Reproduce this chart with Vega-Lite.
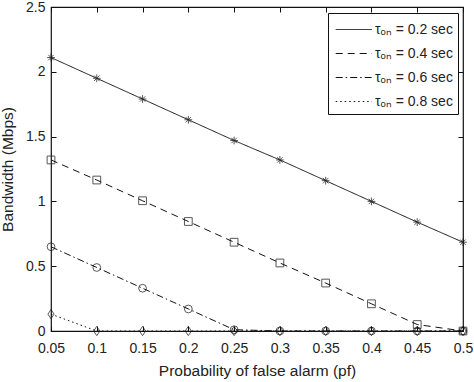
{
  "$schema": "https://vega.github.io/schema/vega-lite/v6.json",
  "width": 412,
  "height": 324,
  "autosize": {"type": "none"},
  "padding": {"left": 51, "top": 7, "right": 11, "bottom": 51},
  "background": "white",
  "config": {
    "view": {"stroke": "#111", "strokeWidth": 1.2},
    "font": "Liberation Sans",
    "legend": {"rowPadding": 5, "padding": 5},
    "axis": {
      "domain": false,
      "grid": false,
      "tickColor": "#111",
      "tickSize": -5,
      "labelPadding": 10,
      "labelFlush": false,
      "labelFont": "Liberation Sans",
      "labelFontSize": 14,
      "labelColor": "#222",
      "titleFont": "Liberation Sans",
      "titleFontSize": 15.5,
      "titleFontWeight": "normal",
      "titleColor": "#222"
    }
  },
  "data": {
    "values": [
      {"pf": 0.05, "tau": "0.2", "bw": 2.11},
      {"pf": 0.10, "tau": "0.2", "bw": 1.95},
      {"pf": 0.15, "tau": "0.2", "bw": 1.79},
      {"pf": 0.20, "tau": "0.2", "bw": 1.63},
      {"pf": 0.25, "tau": "0.2", "bw": 1.47},
      {"pf": 0.30, "tau": "0.2", "bw": 1.32},
      {"pf": 0.35, "tau": "0.2", "bw": 1.16},
      {"pf": 0.40, "tau": "0.2", "bw": 1.00},
      {"pf": 0.45, "tau": "0.2", "bw": 0.84},
      {"pf": 0.50, "tau": "0.2", "bw": 0.685},
      {"pf": 0.05, "tau": "0.4", "bw": 1.32},
      {"pf": 0.10, "tau": "0.4", "bw": 1.165},
      {"pf": 0.15, "tau": "0.4", "bw": 1.005},
      {"pf": 0.20, "tau": "0.4", "bw": 0.845},
      {"pf": 0.25, "tau": "0.4", "bw": 0.685},
      {"pf": 0.30, "tau": "0.4", "bw": 0.525},
      {"pf": 0.35, "tau": "0.4", "bw": 0.37},
      {"pf": 0.40, "tau": "0.4", "bw": 0.21},
      {"pf": 0.45, "tau": "0.4", "bw": 0.05},
      {"pf": 0.50, "tau": "0.4", "bw": 0.0},
      {"pf": 0.05, "tau": "0.6", "bw": 0.65},
      {"pf": 0.10, "tau": "0.6", "bw": 0.49},
      {"pf": 0.15, "tau": "0.6", "bw": 0.33},
      {"pf": 0.20, "tau": "0.6", "bw": 0.17},
      {"pf": 0.25, "tau": "0.6", "bw": 0.01},
      {"pf": 0.30, "tau": "0.6", "bw": 0.0},
      {"pf": 0.35, "tau": "0.6", "bw": 0.0},
      {"pf": 0.40, "tau": "0.6", "bw": 0.0},
      {"pf": 0.45, "tau": "0.6", "bw": 0.0},
      {"pf": 0.50, "tau": "0.6", "bw": 0.0},
      {"pf": 0.05, "tau": "0.8", "bw": 0.13},
      {"pf": 0.10, "tau": "0.8", "bw": 0.0},
      {"pf": 0.15, "tau": "0.8", "bw": 0.0},
      {"pf": 0.20, "tau": "0.8", "bw": 0.0},
      {"pf": 0.25, "tau": "0.8", "bw": 0.0},
      {"pf": 0.30, "tau": "0.8", "bw": 0.0},
      {"pf": 0.35, "tau": "0.8", "bw": 0.0},
      {"pf": 0.40, "tau": "0.8", "bw": 0.0},
      {"pf": 0.45, "tau": "0.8", "bw": 0.0},
      {"pf": 0.50, "tau": "0.8", "bw": 0.0}
    ]
  },
  "resolve": {"axis": {"x": "independent", "y": "independent"}, "legend": {"shape": "independent", "strokeDash": "independent"}},
  "layer": [
    {
      "mark": {"type": "line", "color": "#111", "strokeWidth": 1, "clip": false},
      "encoding": {
        "x": {
          "field": "pf", "type": "quantitative",
          "scale": {"domain": [0.05, 0.5], "nice": false, "zero": false},
          "axis": {"values": [0.05, 0.1, 0.15, 0.2, 0.25, 0.3, 0.35, 0.4, 0.45, 0.5], "format": ".2~f", "labelPadding": 15, "title": "Probability of false alarm (pf)", "titlePadding": 8}
        },
        "y": {
          "field": "bw", "type": "quantitative",
          "scale": {"domain": [0, 2.5], "nice": false},
          "axis": {"values": [0, 0.5, 1, 1.5, 2, 2.5], "format": "~g", "labelPadding": 11, "title": "Bandwidth (Mbps)", "titlePadding": 10}
        },
        "strokeDash": {
          "field": "tau", "type": "nominal",
          "scale": {"domain": ["0.2", "0.4", "0.6", "0.8"], "range": [[1, 0], [7, 5], [7, 3, 1.5, 3], [1.5, 3]]},
          "legend": {
            "title": null,
            "orient": "top-right",
            "offset": 5.5,
            "symbolType": "M-0.8,0L2.5,0",
            "symbolSize": 484,
            "symbolStrokeColor": "#111",
            "symbolStrokeWidth": 1,
            "labelFont": "Liberation Sans",
            "labelFontSize": 14,
            "labelColor": "#222",
            "labelOffset": 19,
            "labelExpr": "'τₒₙ = ' + datum.label + ' sec'",
            "rowPadding": 5,
            "padding": 5,
            "strokeColor": "#111",
            "fillColor": "white"
          }
        }
      }
    },
    {
      "mark": {"type": "point", "filled": false, "color": "#111", "strokeWidth": 1, "size": 60, "clip": false},
      "encoding": {
        "x": {"field": "pf", "type": "quantitative", "axis": {"orient": "top", "labels": false, "title": null, "values": [0.05, 0.1, 0.15, 0.2, 0.25, 0.3, 0.35, 0.4, 0.45, 0.5]}},
        "y": {"field": "bw", "type": "quantitative", "axis": {"orient": "right", "labels": false, "title": null, "values": [0, 0.5, 1, 1.5, 2, 2.5]}},
        "shape": {
          "field": "tau", "type": "nominal",
          "scale": {"domain": ["0.2", "0.4", "0.6", "0.8"], "range": ["M-1,0L1,0M0,-1L0,1M-0.7,-0.7L0.7,0.7M-0.7,0.7L0.7,-0.7", "square", "circle", "M0,-1.2L0.8,0L0,1.2L-0.8,0Z"]},
          "legend": null
        }
      }
    }
  ]
}
